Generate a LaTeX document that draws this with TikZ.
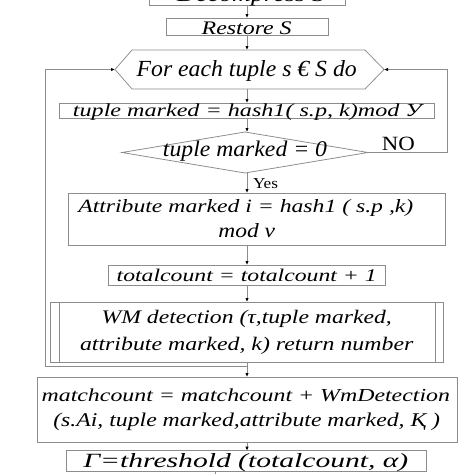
\documentclass[tikz,border=0pt]{standalone}
\usepackage{fontspec}
\setmainfont{Liberation Serif}
\usetikzlibrary{arrows.meta,calc}
\definecolor{lc}{RGB}{140,140,140}
\newcommand{\fitt}[3]{\resizebox{#1pt}{#2pt}{#3}}
\begin{document}
\begin{tikzpicture}[x=1pt,y=-1pt,
  lin/.style={draw=lc, line width=0.75pt},
  boxn/.style={lin, rectangle, inner sep=0pt, outer sep=0pt},
  ghost/.style={rectangle, inner sep=0pt, outer sep=0pt},
  txt/.style={anchor=base, inner sep=0pt, font=\itshape},
  txtup/.style={anchor=base, inner sep=0pt},
  arr/.style={lin, -{Latex[length=4pt,width=3.4pt,color=black]}}]
\useasboundingbox (0,0) rectangle (474,474);
\fill[white] (0,0) rectangle (474,474);
\clip (0,0) rectangle (474,474);
\coordinate (ax) at (247,0);
% boxes
\node[boxn, minimum width=196pt, minimum height=24pt] (decomp) at (247,-7) {};
\node[boxn, minimum width=162pt, minimum height=17pt] (restore) at (247,26.5) {};
\node[ghost, minimum width=269pt, minimum height=39pt] (loop) at (249.5,69.5) {};
\draw[lin] (loop.west) -- ([xshift=17pt]loop.north west) -- ([xshift=-19pt]loop.north east)
  -- (loop.east) -- ([xshift=-19pt]loop.south east) -- ([xshift=17pt]loop.south west) -- cycle;
\node[boxn, minimum width=375pt, minimum height=15pt] (tm) at (246.5,110.5) {};
\node[ghost, minimum width=246pt, minimum height=41pt] (dec) at (245,152.5) {};
\draw[lin] (dec.west) -- (dec.north) -- (dec.east) -- (dec.south) -- cycle;
\node[boxn, minimum width=377pt, minimum height=52pt] (attr) at (256.5,219) {};
\node[boxn, minimum width=276.7pt, minimum height=20pt] (tc) at (246.7,275) {};
\node[boxn, minimum width=393pt, minimum height=60pt] (wm) at (246.5,332) {};
\draw[lin] ([xshift=9.5pt]wm.north west) -- ([xshift=9.5pt]wm.south west);
\draw[lin] ([xshift=-8pt]wm.north east) -- ([xshift=-8pt]wm.south east);
\node[boxn, minimum width=420pt, minimum height=65pt] (mc) at (247,409.5) {};
\node[boxn, minimum width=360pt, minimum height=21pt] (gam) at (246.7,461.2) {};
% texts
\node[txt] (t0) at (251,1) {\fitt{148}{14}{Decompress S}};
\node[txt] (t1) at (246.7,34.3) {\fitt{90}{12.7}{Restore S}};
\node[txt] (t2) at (246.7,76) {\fitt{220}{16}{For each tuple s € S do}};
\node[txt] (t3) at (247.3,116.7) {\fitt{348.7}{12.7}{tuple marked = hash1( s.p, k)mod У}};
\node[txt] (t4) at (245,156) {\fitt{164}{15.5}{tuple marked = 0}};
\node[txtup] (tno) at (398.3,150.7) {\fitt{33}{13.4}{NO}};
\node[txtup] (tyes) at (265.5,188.3) {\fitt{25}{10}{Yes}};
\node[txt] (t5) at (245.8,212.7) {\fitt{335}{13}{Attribute marked i = hash1 ( s.p ,k)}};
\node[txt] (t6) at (246.7,237.7) {\fitt{56.7}{14}{mod v}};
\node[txt] (t7) at (246.7,281.7) {\fitt{260}{12.4}{totalcount = totalcount + 1}};
\node[txt] (t8) at (246.7,323.3) {\fitt{290}{13.3}{WM detection (τ,tuple marked,}};
\node[txt] (t9) at (246.7,350) {\fitt{333.3}{13.3}{attribute marked, k) return number}};
\node[txt] (t10) at (245.8,401.7) {\fitt{408.3}{12.7}{matchcount = matchcount + WmDetection}};
\node[txt] (t11) at (246.7,426) {\fitt{386.7}{13.5}{(s.Ai, tuple marked,attribute marked, Қ )}};
\node[txt] (t12) at (245.8,467.3) {\fitt{325}{14}{Γ=threshold (totalcount, α)}};
% connectors
\draw[arr] (decomp.south -| ax) -- (restore.north -| ax);
\draw[arr] (restore.south -| ax) -- (loop.north -| ax);
\draw[arr] (loop.south -| ax) -- (tm.north -| ax);
\draw[arr] (tm.south -| ax) -- (dec.north -| ax);
\draw[arr] (dec.south -| ax) -- (attr.north -| ax);
\draw[arr] (attr.south -| ax) -- (tc.north -| ax);
\draw[arr] (tc.south -| ax) -- (wm.north -| ax);
\draw[arr] (wm.south -| ax) -- (mc.north -| ax);
\draw[arr] (mc.south -| ax) -- (gam.north -| ax);
\coordinate (j) at (247,366);
\draw[arr] (j) -| ([xshift=-70pt]loop.west) -- (loop.west);
\draw[arr] (dec.east) -| ([xshift=63pt]loop.east) -- (loop.east);
\coordinate (tk) at (215,480);
\draw[lin] (gam.south -| tk) -- (tk);
\end{tikzpicture}
\end{document}
